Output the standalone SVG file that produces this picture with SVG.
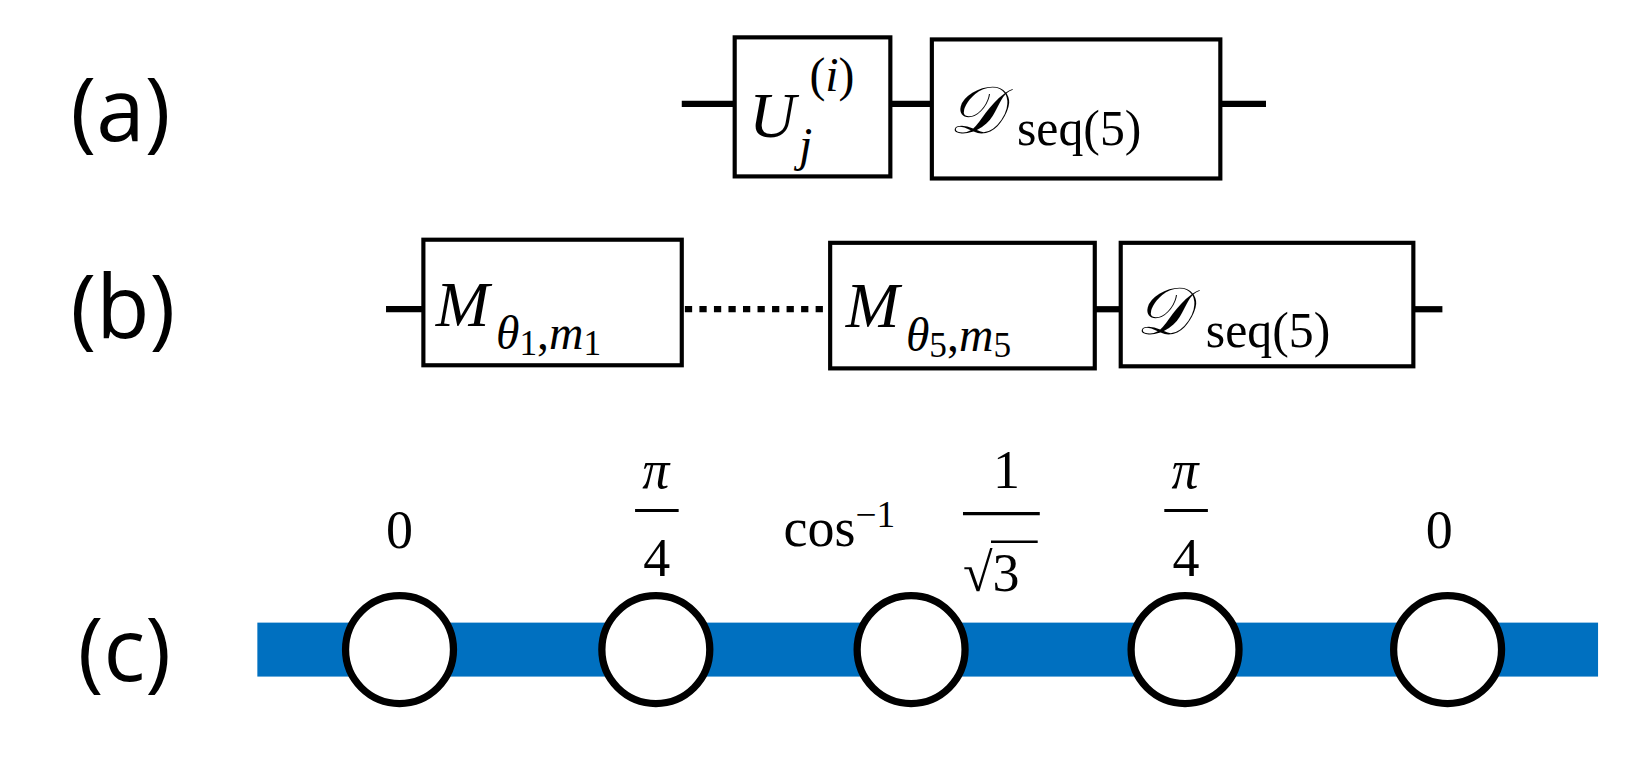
<svg xmlns="http://www.w3.org/2000/svg" width="1625" height="784" viewBox="0 0 1625 784">
<style>
.lbl{font-family:"Open Sans","DejaVu Sans",sans-serif;font-size:84px;fill:#000}
.box{fill:#fff;stroke:#000;stroke-width:4}
.w{stroke:#000;stroke-width:6;fill:none}
.m{font-family:"Liberation Serif","DejaVu Serif",serif;fill:#000}
.mi{font-family:"Liberation Serif","DejaVu Serif",serif;font-style:italic;fill:#000}
.sc{font-family:"Liberation Serif","DejaVu Serif",serif;font-style:italic;fill:#000}
.node{fill:#fff;stroke:#000;stroke-width:7}
</style>
<rect width="1625" height="784" fill="#fff"/>
<g transform="scale(1.0377)">
<text class="lbl" x="68" y="136">(a)</text>
<text class="lbl" x="68" y="326">(b)</text>
<text class="lbl" x="75" y="656">(c)</text>
<g id="connectors">
<line class="w" x1="657" y1="100" x2="708" y2="100"/>
<line class="w" x1="858" y1="100" x2="898" y2="100"/>
<line class="w" x1="1176" y1="100" x2="1220" y2="100"/>
<line class="w" x1="372" y1="298" x2="408" y2="298"/>
<line class="w" x1="660" y1="298" x2="800" y2="298" stroke-dasharray="7,7"/>
<line class="w" x1="1055" y1="298" x2="1080" y2="298"/>
<line class="w" x1="1362" y1="298" x2="1390" y2="298"/>
<rect x="248" y="600" width="1292" height="52" fill="#0070c0"/>
</g>
<g id="U"><rect class="box" x="708" y="36" width="150" height="134"/>
<text class="mi" x="722" y="132" font-size="62">U</text>
<text class="m" x="780" y="88" font-size="46">(<tspan font-style="italic">i</tspan>)</text>
<text class="mi" x="770" y="155" font-size="46">j</text></g>
<g id="D1"><rect class="box" x="898" y="38" width="278" height="134"/>
<text class="sc" x="915" y="128" font-size="64">𝒟</text>
<text class="m" x="980" y="140" font-size="48">seq(5)</text></g>
<g id="M1"><rect class="box" x="408" y="231" width="249" height="121"/>
<text class="mi" x="420" y="314" font-size="62">M</text>
<text class="mi" x="478" y="336" font-size="46">θ<tspan baseline-shift="-6" font-size="34" font-style="normal">1</tspan><tspan font-style="normal">,</tspan>m<tspan baseline-shift="-6" font-size="34" font-style="normal">1</tspan></text></g>
<g id="M5"><rect class="box" x="800" y="234" width="255" height="121"/>
<text class="mi" x="815" y="315" font-size="62">M</text>
<text class="mi" x="873" y="338" font-size="46">θ<tspan baseline-shift="-6" font-size="34" font-style="normal">5</tspan><tspan font-style="normal">,</tspan>m<tspan baseline-shift="-6" font-size="34" font-style="normal">5</tspan></text></g>
<g id="D2"><rect class="box" x="1080" y="234" width="282" height="119"/>
<text class="sc" x="1095" y="322" font-size="64">𝒟</text>
<text class="m" x="1162" y="334" font-size="48">seq(5)</text></g>
<g id="n1"><circle class="node" cx="385" cy="626" r="52"/><text class="m" x="385" y="528" font-size="52" text-anchor="middle">0</text></g>
<g id="n2"><circle class="node" cx="632" cy="626" r="52"/>
<text class="mi" x="632" y="470" font-size="52" text-anchor="middle">π</text>
<line x1="612" y1="492" x2="654" y2="492" stroke="#000" stroke-width="3"/>
<text class="m" x="633" y="555" font-size="52" text-anchor="middle">4</text></g>
<g id="n3"><circle class="node" cx="878" cy="626" r="52"/>
<text class="m" x="755" y="526" font-size="52">cos<tspan baseline-shift="18" font-size="36">−1</tspan></text>
<text class="m" x="970" y="470" font-size="52" text-anchor="middle">1</text>
<line x1="928" y1="495" x2="1002" y2="495" stroke="#000" stroke-width="3"/>
<text class="m" x="928" y="570" font-size="52">√3</text>
<line x1="955" y1="522" x2="1000" y2="522" stroke="#000" stroke-width="2.5"/></g>
<g id="n4"><circle class="node" cx="1142" cy="626" r="52"/>
<text class="mi" x="1142" y="470" font-size="52" text-anchor="middle">π</text>
<line x1="1122" y1="492" x2="1164" y2="492" stroke="#000" stroke-width="3"/>
<text class="m" x="1143" y="555" font-size="52" text-anchor="middle">4</text></g>
<g id="n5"><circle class="node" cx="1395" cy="626" r="52"/><text class="m" x="1387" y="528" font-size="52" text-anchor="middle">0</text></g>
</g>
</svg>
